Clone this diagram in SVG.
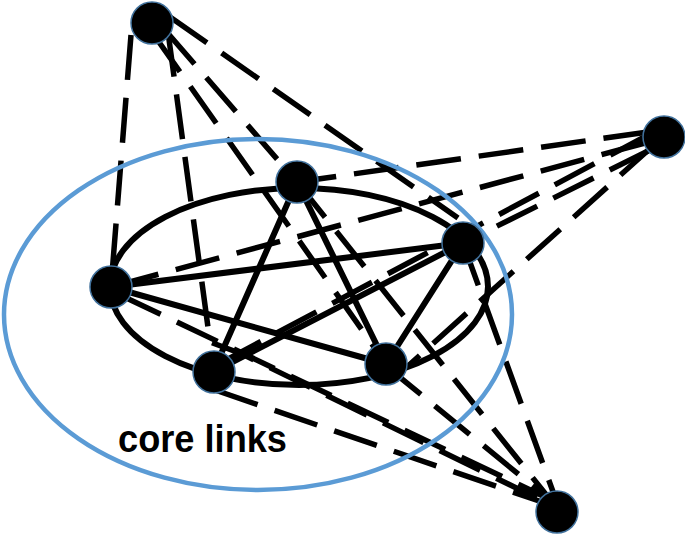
<svg xmlns="http://www.w3.org/2000/svg" width="685" height="535" viewBox="0 0 685 535">
  <style>
    .dash { fill: none; stroke: #000; stroke-width: 5.5; stroke-dasharray: 45 18; stroke-linecap: butt; }
    .solid { fill: none; stroke: #000; stroke-width: 6; stroke-linecap: round; }
    .node { fill: #000; stroke: #41719C; stroke-width: 1.5; }
    .label { font-family: "Liberation Sans", Arial, sans-serif; font-weight: bold; font-size: 39px; fill: #000; }
  </style>
  <rect width="685" height="535" fill="#fff"/>
  <g id="connectors">
    <!-- dashed links from outer node A -->
    <line class="dash" x1="131" y1="35" x2="111" y2="287"/>
    <polyline class="dash" points="168,32 210,342 242,354 545,502"/>
    <line class="dash" x1="165" y1="30" x2="297" y2="182"/>
    <line class="dash" x1="154" y1="35" x2="386" y2="364"/>
    <line class="dash" x1="170" y1="17" x2="458" y2="218"/>
    <!-- dashed links from outer node B -->
    <line class="dash" x1="648" y1="132" x2="297" y2="182"/>
    <line class="dash" x1="645" y1="143" x2="111" y2="287"/>
    <line class="dash" x1="650" y1="134" x2="213" y2="367"/>
    <line class="dash" x1="650" y1="150" x2="463" y2="243"/>
    <line class="dash" x1="654" y1="145" x2="408" y2="366"/>
    <!-- dashed links to outer node C -->
    <line class="dash" x1="463" y1="243" x2="556" y2="500"/>
    <line class="dash" x1="297" y1="182" x2="548" y2="497"/>
    <line class="dash" x1="386" y1="366" x2="550" y2="500"/>
    <line class="dash" x1="120" y1="295" x2="545" y2="497"/>
    <line class="dash" x1="215" y1="390" x2="545" y2="503"/>
    <!-- core solid links -->
    <ellipse class="solid" cx="299" cy="286.5" rx="189" ry="98.5"/>
    <line class="solid" x1="111" y1="287" x2="463" y2="243"/>
    <line class="solid" x1="111" y1="287" x2="386" y2="364"/>
    <line class="solid" x1="297" y1="182" x2="213" y2="372"/>
    <line class="solid" x1="297" y1="182" x2="386" y2="364"/>
    <line class="solid" x1="213" y1="372" x2="463" y2="243"/>
    <line class="solid" x1="463" y1="243" x2="386" y2="364"/>
  </g>
  <g id="core-region">
    <ellipse cx="258" cy="314.5" rx="254" ry="175.5" fill="none" stroke="#5B9BD5" stroke-width="4.5"/>
    <text class="label" x="118" y="452" textLength="169" lengthAdjust="spacingAndGlyphs">core links</text>
  </g>
  <g id="node-A"><circle class="node" cx="152" cy="23" r="21"/></g>
  <g id="node-B"><circle class="node" cx="664" cy="137" r="21"/></g>
  <g id="node-C"><circle class="node" cx="557" cy="512" r="21"/></g>
  <g id="node-D"><circle class="node" cx="297" cy="182" r="21"/></g>
  <g id="node-E"><circle class="node" cx="463" cy="243" r="21"/></g>
  <g id="node-F"><circle class="node" cx="111" cy="287" r="21"/></g>
  <g id="node-G"><circle class="node" cx="214" cy="372" r="21"/></g>
  <g id="node-H"><circle class="node" cx="386" cy="364" r="21"/></g>
</svg>
